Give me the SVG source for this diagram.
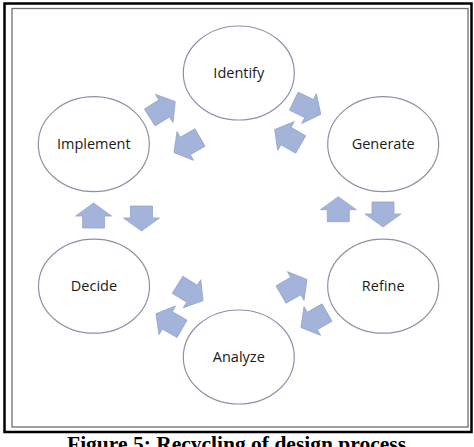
<svg xmlns="http://www.w3.org/2000/svg" xmlns:xlink="http://www.w3.org/1999/xlink" width="474" height="447" viewBox="0 0 474 447">
<style>
.node ellipse{fill:#ffffff;stroke:#8a93a6;stroke-width:1.2}
.node text{font-family:"Open Sans","Liberation Sans",sans-serif;font-size:14.5px;fill:#1a1a1a;text-anchor:middle}
.arr{fill:#a3b3d9;stroke:#93a4cc;stroke-width:0.8}
.cap{font-family:"Liberation Serif","Times New Roman",serif;font-weight:bold;font-size:21.5px;fill:#000;text-anchor:middle}
</style>
<defs>
<polygon id="blk" points="-12,-11 0,-11 0,-18 13,0 0,18 0,11 -12,11"/>
<polygon id="dg" points="-15,-10 2,-10 2,-16.5 15,0 2,16.5 2,10 -15,10"/>
</defs>
<rect x="0" y="0" width="474" height="447" fill="#fff"/>
<rect x="4.5" y="3.5" width="467" height="428.5" fill="none" stroke="#000" stroke-width="2.5"/>
<rect x="12" y="8.5" width="456" height="418.5" fill="none" stroke="#6e6e6e" stroke-width="1.3"/>
<g id="connectors">
<use xlink:href="#dg" class="arr" transform="translate(162.5,109.5) rotate(-32)"/>
<use xlink:href="#dg" class="arr" transform="translate(187,145) rotate(150)"/>
<use xlink:href="#dg" class="arr" transform="translate(307.3,107.7) rotate(26)"/>
<use xlink:href="#dg" class="arr" transform="translate(287.7,137) rotate(210)"/>
<use xlink:href="#dg" class="arr" transform="translate(190.3,292.7) rotate(32)"/>
<use xlink:href="#dg" class="arr" transform="translate(169,321.3) rotate(210)"/>
<use xlink:href="#dg" class="arr" transform="translate(294,287) rotate(-30)"/>
<use xlink:href="#dg" class="arr" transform="translate(314,320) rotate(150)"/>
<use xlink:href="#blk" class="arr" transform="translate(93.6,216) rotate(-90)"/>
<use xlink:href="#blk" class="arr" transform="translate(141.5,218) rotate(90)"/>
<use xlink:href="#blk" class="arr" transform="translate(338.3,209.7) rotate(-90)"/>
<use xlink:href="#blk" class="arr" transform="translate(383,214) rotate(90)"/>
</g>
<g id="identify" class="node"><ellipse cx="238.8" cy="73" rx="55.5" ry="47"/><text x="238.8" y="77.5">Identify</text></g>
<g id="implement" class="node"><ellipse cx="93.8" cy="144.2" rx="55.5" ry="47.5"/><text x="93.8" y="149">Implement</text></g>
<g id="generate" class="node"><ellipse cx="383.2" cy="144.2" rx="55.5" ry="47.5"/><text x="383.2" y="149">Generate</text></g>
<g id="decide" class="node"><ellipse cx="94" cy="286.2" rx="55.5" ry="47"/><text x="94" y="290.7">Decide</text></g>
<g id="refine" class="node"><ellipse cx="383.2" cy="286.2" rx="55.5" ry="47"/><text x="383.2" y="290.7">Refine</text></g>
<g id="analyze" class="node"><ellipse cx="238.8" cy="357" rx="55.5" ry="47"/><text x="238.8" y="361.7">Analyze</text></g>
<text class="cap" x="236.5" y="450.5">Figure 5: Recycling of design process</text>
</svg>
